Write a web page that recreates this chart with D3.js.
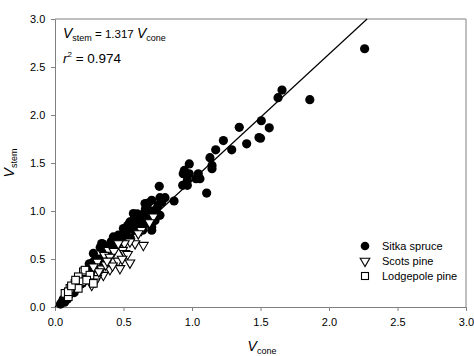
<!DOCTYPE html>
<html><head><meta charset="utf-8">
<script src="https://cdn.jsdelivr.net/npm/d3@7"></script>
<style>body{margin:0;background:#fff}svg{display:block;font-family:"Liberation Sans",Arial,sans-serif}</style>
</head><body>
<svg id="c" width="474" height="356"></svg>
<script>
const xTicks = [0.0, 0.5, 1.0, 1.5, 2.0, 2.5, 3.0];
const yTicks = [0.0, 0.5, 1.0, 1.5, 2.0, 2.5, 3.0];
const slope = 1.317;
const r2 = 0.974;
const seriesNames = ["Sitka spruce", "Scots pine", "Lodgepole pine"];
const sitka = [
[2.26,2.69],[1.86,2.16],[1.657,2.26],[1.628,2.18],[1.506,1.94],[1.564,1.866],[1.345,1.872],[1.489,1.765],[1.50,1.758],[1.399,1.70],[1.229,1.734],[1.29,1.637],[1.173,1.637],[1.131,1.555],[0.98,1.49],[1.146,1.475],[1.146,1.44],[0.944,1.423],[0.936,1.388],[0.98,1.388],[1.046,1.388],[1.029,1.336],[1.058,1.336],[0.966,1.319],[0.932,1.267],[0.966,1.267],[1.107,1.187],[0.761,1.257],[0.766,1.139],[0.803,1.139],[0.706,1.111],[0.869,1.104],[0.779,1.094],[0.766,0.955],
[0.681,1.083],[0.657,1.077],[0.754,1.059],[0.572,0.973],[0.584,0.955],[0.718,0.955],[0.73,0.90],[0.706,0.834],[0.706,0.80],[0.547,0.886],[0.608,0.851],[0.535,0.817],[0.499,0.817],[0.462,0.748],[0.438,0.696],[0.426,0.73],[0.365,0.61],[0.341,0.661],[0.28,0.558],[0.268,0.454],[0.65,0.98],[0.62,0.93],[0.66,0.87],[0.60,0.92],[0.56,0.84],[0.58,0.80],[0.64,0.80],[0.50,0.75],[0.47,0.70],[0.45,0.65],[0.55,0.72],[0.42,0.62],[0.39,0.60],[0.37,0.58],[0.33,0.62],[0.35,0.655],[0.30,0.50],[0.32,0.50],[0.36,0.54],[0.33,0.44],[0.28,0.47],[0.25,0.45],[0.27,0.40],[0.26,0.36],[0.22,0.35],[0.24,0.30],[0.18,0.30],[0.20,0.25],[0.19,0.24],[0.15,0.22],[0.12,0.18],[0.14,0.15],[0.10,0.12],[0.08,0.10],[0.06,0.08],[0.09,0.08],[0.05,0.05],[0.07,0.05],[0.04,0.03],
[0.52,0.78],[0.48,0.72],[0.44,0.66],[0.40,0.64],[0.38,0.56],[0.35,0.50],[0.31,0.45],[0.29,0.42],[0.23,0.33],[0.21,0.29],[0.17,0.26],[0.16,0.20],[0.13,0.17],[0.11,0.14],[0.62,0.88],[0.68,0.92],[0.70,1.0],[0.57,0.90],[0.53,0.85],[0.66,1.02],[0.60,0.97],[0.74,1.02],[0.45,0.70],[0.41,0.68]
];
const scots = [
[0.718,0.94],[0.69,0.88],[0.63,0.80],[0.608,0.765],[0.645,0.644],[0.584,0.661],[0.547,0.68],[0.506,0.661],[0.494,0.592],[0.462,0.661],[0.389,0.592],[0.43,0.58],[0.51,0.56],[0.53,0.55],[0.36,0.54],[0.40,0.52],[0.31,0.47],[0.46,0.48],[0.49,0.50],[0.547,0.46],[0.474,0.402],[0.401,0.391],[0.353,0.332],[0.304,0.298],[0.292,0.263],[0.268,0.228],[0.34,0.40],[0.37,0.44],[0.42,0.43],[0.32,0.37],[0.26,0.34],[0.38,0.48],[0.28,0.42],[0.22,0.28],[0.18,0.22]
];
const lodgepole = [
[0.207,0.367],[0.219,0.384],[0.255,0.332],[0.17,0.315],[0.195,0.263],[0.146,0.246],[0.109,0.194],[0.17,0.194],[0.231,0.28],[0.28,0.246],[0.073,0.142],[0.097,0.107],[0.097,0.159],[0.12,0.22],[0.15,0.28]
];

const svg = d3.select("#c");
const x = d3.scaleLinear().domain([0, 3]).range([55, 466]);
const y = d3.scaleLinear().domain([0, 3]).range([307, 19]);
const grey = "#808080";

svg.append("line").attr("x1", x(0)).attr("x2", x(3)).attr("y1", y(3)).attr("y2", y(3)).attr("stroke", grey);
svg.append("line").attr("x1", x(3)).attr("x2", x(3)).attr("y1", y(0)).attr("y2", y(3)).attr("stroke", grey);

const fmt = d3.format(".1f");
const gx = svg.append("g").attr("transform", `translate(0,${y(0)})`)
  .call(d3.axisBottom(x).tickValues(xTicks).tickFormat(fmt).tickSize(4).tickSizeOuter(0));
const gy = svg.append("g").attr("transform", `translate(${x(0)},0)`)
  .call(d3.axisLeft(y).tickValues(yTicks).tickFormat(fmt).tickSize(4).tickSizeOuter(0));
[gx, gy].forEach(g => {
  g.select(".domain").attr("stroke", grey);
  g.selectAll(".tick line").attr("stroke", grey);
  g.selectAll(".tick text").attr("fill", "#000").attr("font-size", 11).attr("font-family", "Liberation Sans, Arial, sans-serif");
});
gx.selectAll(".tick text").attr("dy", "1.05em");
gy.selectAll(".tick text").attr("dx", "-0.25em");

const xEnd = 3 / slope;
svg.append("line").attr("x1", x(0)).attr("y1", y(0)).attr("x2", x(xEnd)).attr("y2", y(slope * xEnd))
  .attr("stroke", "#000").attr("stroke-width", 1.2);

svg.append("g").selectAll("circle").data(sitka).join("circle")
  .attr("cx", d => x(d[0])).attr("cy", d => y(d[1])).attr("r", 4.6).attr("fill", "#000");
const tri = d3.symbol().type(d3.symbolTriangle).size(40);
svg.append("g").selectAll("path").data(scots).join("path")
  .attr("d", tri).attr("transform", d => `translate(${x(d[0])},${y(d[1])}) rotate(180)`)
  .attr("fill", "#fff").attr("stroke", "#000").attr("stroke-width", 1.1);
svg.append("g").selectAll("rect").data(lodgepole).join("rect")
  .attr("x", d => x(d[0]) - 3.8).attr("y", d => y(d[1]) - 3.8).attr("width", 7.6).attr("height", 7.6)
  .attr("fill", "#fff").attr("stroke", "#000").attr("stroke-width", 1.1);

const lg = svg.append("g").attr("font-size", 11).attr("fill", "#000");
const ly = [246, 261, 276];
lg.append("circle").attr("cx", 365).attr("cy", ly[0]).attr("r", 4.3).attr("fill", "#000");
lg.append("path").attr("d", tri).attr("transform", `translate(365,${ly[1]}) rotate(180)`).attr("fill", "#fff").attr("stroke", "#000").attr("stroke-width", 1.1);
lg.append("rect").attr("x", 361.5).attr("y", ly[2] - 3.5).attr("width", 7).attr("height", 7).attr("fill", "#fff").attr("stroke", "#000").attr("stroke-width", 1.1);
seriesNames.forEach((n, i) => lg.append("text").attr("x", 382).attr("y", ly[i]).attr("dy", "0.35em").text(n));

const a1 = svg.append("text").attr("x", 63).attr("y", 38).attr("font-size", 11.5);
a1.append("tspan").attr("font-style", "italic").attr("font-size", 14).text("V");
a1.append("tspan").attr("font-size", 9).attr("dy", 3).text("stem");
a1.append("tspan").attr("dy", -3).text(" = " + slope.toFixed(3) + " ");
a1.append("tspan").attr("font-style", "italic").attr("font-size", 14).text("V");
a1.append("tspan").attr("font-size", 9).attr("dy", 3).text("cone");
const a2 = svg.append("text").attr("x", 63).attr("y", 63).attr("font-size", 13.5);
a2.append("tspan").attr("font-style", "italic").text("r");
a2.append("tspan").attr("font-size", 8).attr("dy", -6).text("2");
a2.append("tspan").attr("dy", 6).text(" = " + r2.toFixed(3));

const xl = svg.append("text").attr("x", 262).attr("y", 351).attr("text-anchor", "middle");
xl.append("tspan").attr("font-style", "italic").attr("font-size", 14).text("V");
xl.append("tspan").attr("font-size", 9).attr("dy", 3).text("cone");
const yl = svg.append("text").attr("transform", "translate(14,163) rotate(-90)").attr("text-anchor", "middle");
yl.append("tspan").attr("font-style", "italic").attr("font-size", 14).text("V");
yl.append("tspan").attr("font-size", 9).attr("dy", 3).text("stem");
</script>
</body></html>
